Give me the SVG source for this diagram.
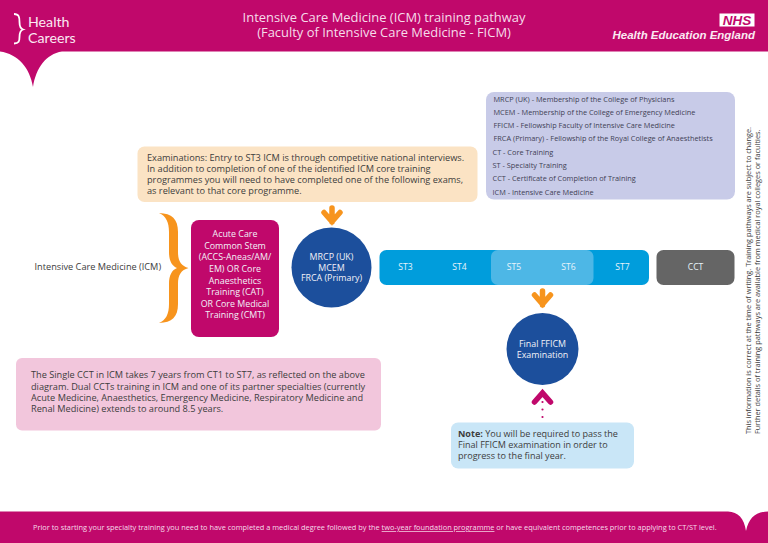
<svg xmlns="http://www.w3.org/2000/svg" width="768" height="543" viewBox="0 0 768 543">
<style>
text{font-family:"Open Sans","Noto Sans","Liberation Sans",sans-serif}
.w{fill:#f6dcea}
.c{text-anchor:middle}
.d{fill:#3d3d3d;font-size:9.2px}
.l{fill:#3f3f55;font-size:7.35px}
.t{fill:#f2f2f8;font-size:8.9px;text-anchor:middle}
.s{fill:#e8f4fb;font-size:8.6px;text-anchor:middle}
.ar{fill:none;stroke-width:5.5;stroke-linecap:round;stroke-linejoin:miter}
</style>
<rect width="768" height="543" fill="#fff"/>
<g id="header">
<path d="M0 0H768V51.500H62C46 54 36 68 33 87C30 68 18 54 0 51.500Z" fill="#c0086b"/>
<path d="M14 14C19 14 19.500 17 19.500 22C19.500 26 20 28.500 23 29.500C20 30.500 19.500 33 19.500 37C19.500 41 19 43.500 14 43.500" fill="none" stroke="#fff" stroke-width="1.800"/>
<text x="28" y="26.500" fill="#fbeaf3" font-size="14.200px" style="font-family:'Lato','Liberation Sans',sans-serif">Health</text>
<text x="28" y="42.500" fill="#fbeaf3" font-size="14.200px" style="font-family:'Lato','Liberation Sans',sans-serif">Careers</text>
<text x="384" y="22" class="w c" font-size="12.950px">Intensive Care Medicine (ICM) training pathway</text>
<text x="384" y="37" class="w c" font-size="12.950px">(Faculty of Intensive Care Medicine - FICM)</text>
<rect x="719.500" y="13.500" width="35" height="13" fill="#fff"/>
<text x="737" y="25" fill="#c0086b" font-size="13.500px" font-weight="700" font-style="italic" text-anchor="middle" style="font-family:'Liberation Sans',sans-serif">NHS</text>
<text x="755" y="39" fill="#fbeaf3" font-size="11.500px" font-weight="700" font-style="italic" text-anchor="end" style="font-family:'Liberation Sans',sans-serif">Health Education England</text>
</g>
<g id="footer">
<path d="M0 511.500H728C738 512 744 518 746 531C749 518 755 512 768 511.500V543H0Z" fill="#c0086b"/>
<text x="33" y="530" fill="#f6dcea" font-size="7.380px">Prior to starting your specialty training you need to have completed a medical degree followed by the <tspan text-decoration="underline">two-year foundation programme</tspan> or have equivalent competences prior to applying to CT/ST level.</text>
</g>
<g id="abbreviations">
<rect x="486" y="92" width="249" height="107.500" rx="8" fill="#c8cbe8"/>
<text class="l" x="493.500" y="101.500">MRCP (UK) - Membership of the College of Physicians</text>
<text class="l" x="493.500" y="114.800">MCEM - Membership of the College of Emergency Medicine</text>
<text class="l" x="493.500" y="128">FFICM -  Fellowship Faculty of Intensive Care Medicine</text>
<text class="l" x="493.500" y="141.300">FRCA (Primary) - Fellowship of the Royal College of Anaesthetists</text>
<text class="l" x="492.500" y="154.600">CT - Core Training</text>
<text class="l" x="492.500" y="167.900">ST - Specialty Training</text>
<text class="l" x="492.500" y="181.200">CCT - Certificate of Completion of Training</text>
<text class="l" x="492.500" y="194.500">ICM - Intensive Care Medicine</text>
</g>
<g id="examinations">
<rect x="137.500" y="146.500" width="340" height="55.500" rx="7" fill="#fbe3c4"/>
<text class="d" x="147" y="161">Examinations: Entry to ST3 ICM is through competitive national interviews.</text>
<text class="d" x="147" y="172">In addition to completion of one of the identified ICM core training</text>
<text class="d" x="147" y="183">programmes you will need to have completed one of the following exams,</text>
<text class="d" x="147" y="194">as relevant to that core programme.</text>
</g>
<g id="icm-label"><text class="d" x="34.500" y="270">Intensive Care Medicine (ICM)</text></g>
<g id="core-training">
<rect x="191" y="220" width="88" height="117" rx="8" fill="#c0086b"/>
<text class="t" x="235" y="237">Acute Care</text>
<text class="t" x="235" y="248.500">Common Stem</text>
<text class="t" x="235" y="260">(ACCS-Aneas/AM/</text>
<text class="t" x="235" y="271.500">EM) OR Core</text>
<text class="t" x="235" y="283.500">Anaesthetics</text>
<text class="t" x="235" y="295">Training (CAT)</text>
<text class="t" x="235" y="306.500">OR Core Medical</text>
<text class="t" x="235" y="318">Training (CMT)</text>
</g>
<g id="mrcp">
<circle cx="331.500" cy="267.500" r="40" fill="#1c4f9c"/>
<text class="t" x="331.500" y="260">MRCP (UK)</text>
<text class="t" x="331.500" y="270.500">MCEM</text>
<text class="t" x="331.500" y="281">FRCA (Primary)</text>
</g>
<g id="training-bar">
<rect x="379.500" y="250" width="269.500" height="35" rx="7" fill="#009ddc"/>
<rect x="491" y="250" width="102.500" height="35" rx="7" fill="#4db7e6"/>
<text class="s" x="405.500" y="270">ST3</text>
<text class="s" x="459.500" y="270">ST4</text>
<text class="s" x="514" y="270">ST5</text>
<text class="s" x="568.500" y="270">ST6</text>
<text class="s" x="622.500" y="270">ST7</text>
</g>
<g id="cct">
<rect x="656.500" y="250" width="78" height="35" rx="7" fill="#656565"/>
<text class="s" x="695.500" y="270">CCT</text>
</g>
<g id="final-ffficm">
<circle cx="542.500" cy="349" r="36" fill="#1c4f9c"/>
<text class="t" x="542.500" y="347">Final FFICM</text>
<text class="t" x="542.500" y="358">Examination</text>
</g>
<g id="single-cct">
<rect x="16" y="358" width="365" height="72.500" rx="6" fill="#f2c6dc"/>
<text class="d" x="31" y="378">The Single CCT in ICM takes 7 years from CT1 to ST7, as reflected on the above</text>
<text class="d" x="31" y="389.500">diagram. Dual CCTs training in ICM and one of its partner specialties (currently</text>
<text class="d" x="31" y="400.500">Acute Medicine, Anaesthetics, Emergency Medicine, Respiratory Medicine and</text>
<text class="d" x="31" y="412">Renal Medicine) extends to around 8.5 years.</text>
</g>
<g id="note">
<rect x="451" y="422.500" width="183" height="46" rx="7" fill="#c9e6f7"/>
<text class="d" x="458" y="437" style="font-size:9.050px"><tspan font-weight="700">Note:</tspan> You will be required to pass the</text>
<text class="d" x="458" y="448" style="font-size:9.050px">Final FFICM examination in order to</text>
<text class="d" x="458" y="459" style="font-size:9.050px">progress to the final year.</text>
</g>
<g id="disclaimer">
<text class="d" transform="translate(751 434) rotate(-90)" style="font-size:7.370px">This information is correct at the time of writing. Training pathways are subject to change.</text>
<text class="d" transform="translate(760 434) rotate(-90)" style="font-size:7.370px">Further details of training pathways are available from medical royal colleges or faculties.</text>
</g>
<g id="connectors">
<path d="M159 213C172 213.500 178 219 178 232V252C178 261 181 266 188.500 268C181 270 178 275 178 284V304C178 317 172 322.500 159 323C166 320 169 314 169 304V284C169 275 172 270 177 268C172 266 169 261 169 252V232C169 222 166 216 159 213Z" fill="#f7941d"/>
<path class="ar" stroke="#f7941d" d="M332 208V222M324 212.500L332 221.500L340 212.500"/>
<path class="ar" stroke="#f7941d" d="M542.500 291V305M534.500 295L542.500 304L550.500 295"/>
<path class="ar" stroke="#c0086b" d="M534.500 402L542.500 393L550.500 402"/>
<path d="M542.500 402V420" fill="none" stroke="#c0086b" stroke-width="2.200" stroke-linecap="round" stroke-dasharray="0 7.500"/>
</g>
</svg>
